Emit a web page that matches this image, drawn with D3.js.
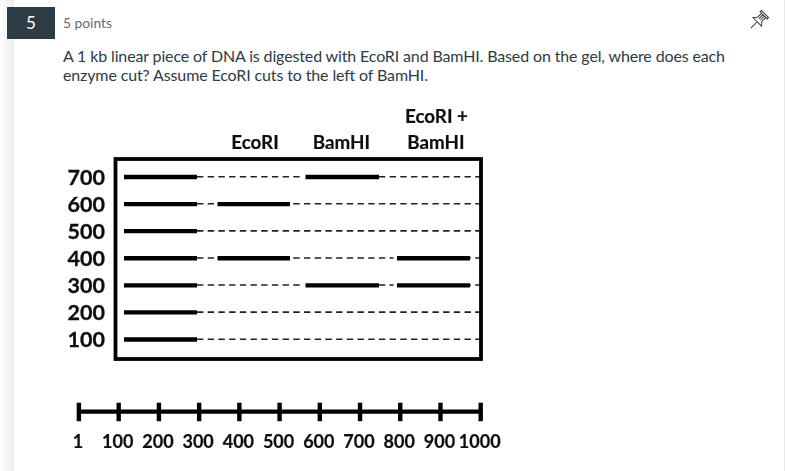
<!DOCTYPE html>
<html><head><meta charset="utf-8">
<script src="https://cdnjs.cloudflare.com/ajax/libs/d3/7.8.5/d3.min.js"></script>
<style>html,body{margin:0;padding:0;background:#fff;overflow:hidden}svg{display:block}text{font-family:Lato,sans-serif}</style>
</head><body><svg id="c" width="785" height="471"></svg>
<script>
const ladderSizes=[700,600,500,400,300,200,100];
const ecoriBands=[600,400];
const bamhiBands=[700,300];
const doubleBands=[400,300];
const laneNames=["Ladder","EcoRI","BamHI","EcoRI + BamHI"];
const rulerTicks=[1,100,200,300,400,500,600,700,800,900,1000];
const questionLines=["A 1 kb linear piece of DNA is digested with EcoRI and BamHI. Based on the gel, where does each","enzyme cut? Assume EcoRI cuts to the left of BamHI."];

const svg=d3.select("#c");
const defs=svg.append("defs");
const g=defs.append("linearGradient").attr("id","sh");
g.append("stop").attr("offset","0").attr("stop-color","#fff");
g.append("stop").attr("offset","1").attr("stop-color","#ececec");
defs.append("filter").attr("id","soft").attr("x","-5%").attr("y","-5%").attr("width","110%").attr("height","110%")
  .append("feGaussianBlur").attr("stdDeviation",0.35);
svg.append("rect").attr("x",0).attr("y",0).attr("width",14).attr("height",471).attr("fill","url(#sh)");
svg.append("rect").attr("x",784).attr("y",0).attr("width",1).attr("height",471).attr("fill","#e8e8e8");

svg.append("rect").attr("x",7).attr("y",7).attr("width",48).attr("height",32).attr("fill","#2d3b45");
svg.append("text").attr("x",31).attr("y",29).attr("text-anchor","middle").attr("fill","#fff").attr("font-size",17).text("5");
svg.append("text").attr("x",63).attr("y",28).attr("fill","#5f6e78").attr("font-size",13.8).text("5 points");
svg.selectAll(".q").data(questionLines).join("text").attr("class","q").attr("x",63).attr("y",(d,i)=>62+i*19)
  .attr("fill","#2d3b45").attr("font-size",16).attr("textLength",(d,i)=>i?365:662).attr("lengthAdjust","spacing").text(d=>d);

// pin icon
const pin=svg.append("g").attr("transform","translate(759,20) rotate(45)").attr("fill","none").attr("stroke","#2d3b45").attr("stroke-width",1);
pin.append("path").attr("d","M-5,-8.5H5V-6.5H-5ZM-3,-6.5V-1L-6,2.5H6L3,-1V-6.5M-1,-6.5V-1M1,-6.5V-1M0,2.5V11.5");

// gel
const gel=svg.append("g").attr("filter","url(#soft)");
const y=d3.scaleLinear().domain([100,700]).range([339.5,177]);
const laneX={"Ladder":[124,197],"EcoRI":[217.5,290],"BamHI":[305.5,379],"EcoRI + BamHI":[397,470]};
const ink="#000";

gel.append("g").selectAll("line").data(ladderSizes).join("line")
  .attr("x1",197).attr("x2",481).attr("y1",d=>y(d)-.3).attr("y2",d=>y(d)-.3)
  .attr("stroke","#222").attr("stroke-width",1.6).attr("stroke-dasharray","6.4 4.3");

[["EcoRI",ecoriBands],["BamHI",bamhiBands],["EcoRI + BamHI",doubleBands]].forEach(([n,b])=>{
  gel.append("g").selectAll("rect").data(b).join("rect")
   .attr("x",laneX[n][0]-3.5).attr("width",laneX[n][1]-laneX[n][0]+3.5).attr("y",d=>y(d)-3).attr("height",6).attr("fill","#fff");
});
laneNames.forEach((n,i)=>{
  const b=[ladderSizes,ecoriBands,bamhiBands,doubleBands][i];
  gel.append("g").selectAll("line").data(b).join("line")
   .attr("x1",laneX[n][0]).attr("x2",laneX[n][1]).attr("y1",d=>y(d)).attr("y2",d=>y(d))
   .attr("stroke",ink).attr("stroke-width",4.3);
});
gel.append("rect").attr("x",115.5).attr("y",159).attr("width",365.5).attr("height",200)
  .attr("fill","none").attr("stroke",ink).attr("stroke-width",3.8);

gel.append("g").selectAll("text").data(ladderSizes).join("text")
  .attr("x",105).attr("y",d=>y(d)+7.5).attr("text-anchor","end").attr("font-size",21.5).attr("font-weight",700)
  .attr("fill","#111").attr("stroke","#111").attr("stroke-width",.3).text(d=>d);

const hdr=(t,x,yy)=>gel.append("text").attr("x",x).attr("y",yy).attr("text-anchor","middle").attr("font-size",18.8).attr("font-weight",700)
  .attr("fill","#111").attr("stroke","#111").attr("stroke-width",.2).text(t);
hdr("EcoRI",255,149);hdr("BamHI",341.5,149);hdr("EcoRI +",436.5,123);hdr("BamHI",436,148.5);

// ruler
const rx=d3.scaleLinear().domain([100,1000]).range([118.7,480.7]);
const rulerY=411.7;
gel.append("line").attr("x1",rx(1)).attr("x2",rx(1000)).attr("y1",rulerY).attr("y2",rulerY).attr("stroke",ink).attr("stroke-width",4.2);
gel.append("g").selectAll("line").data(rulerTicks).join("line")
  .attr("x1",d=>rx(d)).attr("x2",d=>rx(d)).attr("y1",rulerY-9).attr("y2",rulerY+9.5).attr("stroke",ink).attr("stroke-width",4.4);
gel.append("g").selectAll("text").data(rulerTicks).join("text")
  .attr("x",d=>rx(d)-1).attr("y",447.5).attr("text-anchor","middle").attr("font-size",18).attr("font-weight",700)
  .attr("fill","#111").attr("stroke","#111").attr("stroke-width",.2).text(d=>d);
</script></body></html>
